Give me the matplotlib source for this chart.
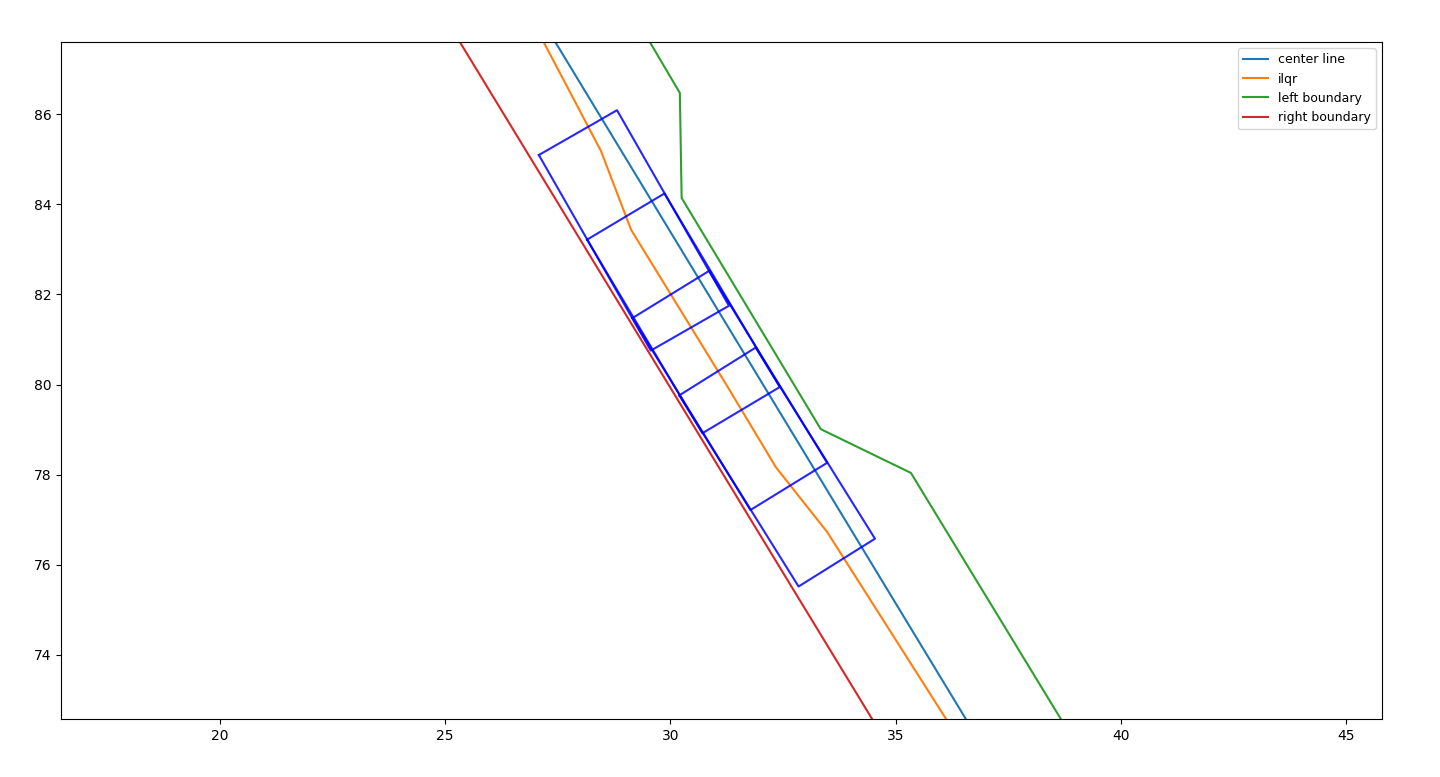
import numpy as np
import matplotlib
matplotlib.use("Agg")
import matplotlib.pyplot as plt

# reference lines (x, y)
center_x = [27.08, 36.73]
center_y = [88.2, 72.3]

ilqr_x = [26.87, 28.46, 29.13, 31.32, 32.34, 33.48, 36.30]
ilqr_y = [88.2, 85.18, 83.43, 79.87, 78.17, 76.73, 72.3]

left_x = [29.19, 30.21, 30.25, 33.34, 35.34, 38.84]
left_y = [88.2, 86.47, 84.14, 79.01, 78.04, 72.3]

right_x = [24.96, 34.65]
right_y = [88.2, 72.3]

# vehicle footprints along the ilqr path
car_x = [29.19, 30.29, 31.32, 32.37]
car_y = [83.42, 81.58, 79.87, 78.17]
car_yaw = [119.8, 120.8, 121.6, 122.0]  # deg
car_len = 5.0
car_wid = 2.0


def car_box(cx, cy, yaw_deg):
    th = np.radians(yaw_deg)
    c, s = np.cos(th), np.sin(th)
    pts = np.array([[car_len / 2, car_wid / 2], [car_len / 2, -car_wid / 2],
                    [-car_len / 2, -car_wid / 2], [-car_len / 2, car_wid / 2],
                    [car_len / 2, car_wid / 2]])
    xs = cx + pts[:, 0] * c - pts[:, 1] * s
    ys = cy + pts[:, 0] * s + pts[:, 1] * c
    return xs, ys


fig = plt.figure(figsize=(14.4, 7.77), dpi=100)
ax = fig.add_axes([61 / 1440, 58 / 777, 1321 / 1440, 677 / 777])

ax.plot(center_x, center_y, label="center line")
ax.plot(ilqr_x, ilqr_y, label="ilqr")
ax.plot(left_x, left_y, label="left boundary")
ax.plot(right_x, right_y, label="right boundary")

for cx, cy, yaw in zip(car_x, car_y, car_yaw):
    bx, by = car_box(cx, cy, yaw)
    ax.plot(bx, by, color="blue", alpha=0.85, lw=1.5)

ax.set_xlim(16.47, 45.8)
ax.set_ylim(72.58, 87.6)
ax.legend(loc="upper right", fontsize=9)

fig.savefig("out.png", dpi=100)
